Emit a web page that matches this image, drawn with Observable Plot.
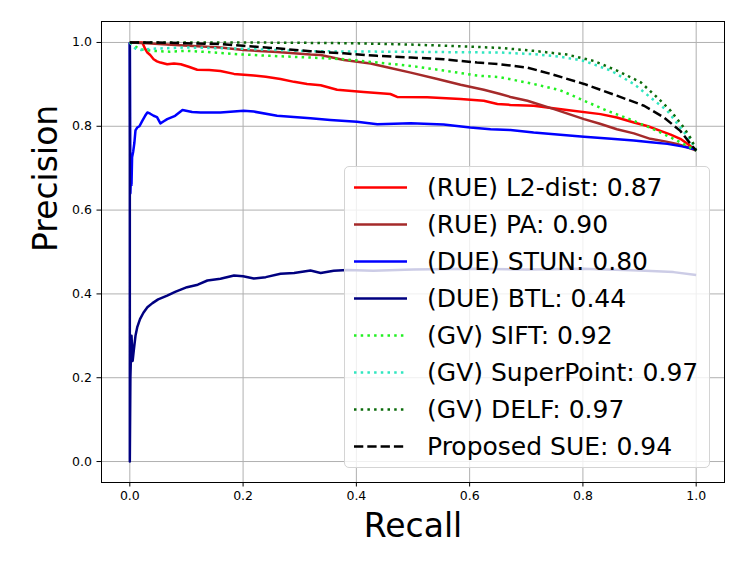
<!DOCTYPE html>
<html>
<head>
<meta charset="utf-8">
<script src="https://cdn.jsdelivr.net/npm/d3@7"></script>
<script src="https://cdn.jsdelivr.net/npm/@observablehq/plot@0.6"></script>
<style>
  html, body { margin: 0; padding: 0; background: white; }
  #wrap { position: relative; width: 745px; height: 578px; font-family: "DejaVu Sans", sans-serif; }
  #legend { position: absolute; left: 344px; top: 166px; width: 366px; height: 302px; box-sizing: border-box;
            border: 1px solid #d4d4d4; border-radius: 5px; background: rgba(255,255,255,0.8); }
  .row { position: absolute; left: 0; height: 37px; width: 100%; }
  .row svg { position: absolute; left: 9px; top: 0; }
  .row span { position: absolute; left: 82px; top: 0; line-height: 37px; font-size: 25px; color: black; white-space: nowrap; }
</style>
</head>
<body>
<div id="wrap"></div>
<script>
// ---- data ----
const seriesNames = ["(RUE) L2-dist: 0.87", "(RUE) PA: 0.90", "(DUE) STUN: 0.80", "(DUE) BTL: 0.44",
  "(GV) SIFT: 0.92", "(GV) SuperPoint: 0.97", "(GV) DELF: 0.97", "Proposed SUE: 0.94"];

const l2Recall = [0, 0.022, 0.027, 0.031, 0.036, 0.042, 0.048, 0.054, 0.066, 0.078, 0.090, 0.104, 0.119, 0.140, 0.160, 0.184, 0.219, 0.240, 0.266, 0.290, 0.313, 0.337, 0.366, 0.413, 0.460, 0.472, 0.525, 0.584, 0.625, 0.649, 0.672, 0.713, 0.772, 0.831, 0.860, 0.890, 0.915, 0.937, 0.955, 0.972, 0.988, 1.0];
const l2Precision = [1.0, 1.0, 0.985, 0.976, 0.970, 0.960, 0.955, 0.952, 0.948, 0.950, 0.948, 0.942, 0.935, 0.934, 0.932, 0.925, 0.921, 0.918, 0.913, 0.906, 0.901, 0.898, 0.887, 0.882, 0.877, 0.870, 0.869, 0.865, 0.861, 0.853, 0.851, 0.849, 0.839, 0.829, 0.821, 0.809, 0.800, 0.789, 0.780, 0.770, 0.755, 0.742];

const paRecall = [0, 0.03, 0.08, 0.16, 0.201, 0.26, 0.319, 0.337, 0.378, 0.425, 0.460, 0.496, 0.543, 0.584, 0.625, 0.654, 0.672, 0.702, 0.749, 0.802, 0.830, 0.860, 0.890, 0.919, 0.945, 0.966, 0.985, 1.0];
const paPrecision = [1.0, 0.998, 0.994, 0.988, 0.982, 0.977, 0.971, 0.970, 0.958, 0.950, 0.939, 0.928, 0.913, 0.899, 0.887, 0.877, 0.870, 0.861, 0.841, 0.817, 0.806, 0.793, 0.783, 0.770, 0.764, 0.758, 0.750, 0.742];

const stunRecall = [0, 0.001, 0.002, 0.003, 0.004, 0.006, 0.008, 0.010, 0.013, 0.017, 0.022, 0.027, 0.031, 0.036, 0.042, 0.048, 0.054, 0.060, 0.066, 0.080, 0.093, 0.110, 0.125, 0.160, 0.201, 0.219, 0.260, 0.319, 0.354, 0.401, 0.437, 0.496, 0.554, 0.601, 0.637, 0.672, 0.713, 0.760, 0.802, 0.850, 0.890, 0.920, 0.949, 0.975, 0.996, 1.0];
const stunPrecision = [1.0, 0.640, 0.680, 0.660, 0.726, 0.740, 0.760, 0.790, 0.797, 0.800, 0.813, 0.825, 0.833, 0.830, 0.825, 0.822, 0.807, 0.812, 0.817, 0.825, 0.839, 0.834, 0.833, 0.833, 0.837, 0.835, 0.825, 0.819, 0.815, 0.811, 0.805, 0.807, 0.804, 0.797, 0.793, 0.791, 0.785, 0.780, 0.775, 0.770, 0.766, 0.762, 0.758, 0.752, 0.746, 0.742];

const btlRecall = [0, 0, 0.001, 0.003, 0.005, 0.007, 0.010, 0.013, 0.018, 0.024, 0.031, 0.040, 0.050, 0.066, 0.080, 0.101, 0.120, 0.137, 0.160, 0.184, 0.200, 0.219, 0.240, 0.266, 0.290, 0.319, 0.337, 0.360, 0.384, 0.43, 0.5, 0.6, 0.7, 0.8, 0.9, 0.96, 1.0];
const btlPrecision = [1.0, 0.0, 0.20, 0.30, 0.24, 0.265, 0.30, 0.32, 0.34, 0.355, 0.368, 0.378, 0.387, 0.396, 0.405, 0.416, 0.422, 0.432, 0.436, 0.444, 0.442, 0.437, 0.440, 0.448, 0.450, 0.456, 0.450, 0.455, 0.457, 0.455, 0.458, 0.460, 0.458, 0.460, 0.456, 0.452, 0.445];

const siftRecall = [0, 0.01, 0.02, 0.04, 0.07, 0.101, 0.150, 0.190, 0.248, 0.319, 0.378, 0.437, 0.496, 0.554, 0.613, 0.654, 0.713, 0.760, 0.802, 0.843, 0.890, 0.931, 0.966, 1.0];
const siftPrecision = [1.0, 0.99, 0.983, 0.980, 0.978, 0.980, 0.976, 0.972, 0.968, 0.964, 0.960, 0.952, 0.944, 0.933, 0.921, 0.917, 0.901, 0.886, 0.861, 0.837, 0.813, 0.789, 0.766, 0.742];

const spRecall = [0, 0.01, 0.02, 0.04, 0.1, 0.2, 0.319, 0.45, 0.55, 0.654, 0.713, 0.760, 0.802, 0.849, 0.890, 0.919, 0.949, 0.972, 0.988, 1.0];
const spPrecision = [1.0, 0.985, 0.982, 0.985, 0.988, 0.985, 0.979, 0.978, 0.977, 0.976, 0.972, 0.966, 0.956, 0.933, 0.901, 0.869, 0.837, 0.797, 0.770, 0.742];

const delfRecall = [0, 0.1, 0.2, 0.319, 0.400, 0.496, 0.580, 0.654, 0.713, 0.772, 0.819, 0.860, 0.902, 0.931, 0.955, 0.978, 0.992, 1.0];
const delfPrecision = [1.0, 1.0, 1.0, 0.999, 0.998, 0.995, 0.991, 0.987, 0.980, 0.971, 0.956, 0.933, 0.905, 0.869, 0.837, 0.797, 0.768, 0.742];

const sueRecall = [0, 0.048, 0.1, 0.160, 0.200, 0.260, 0.319, 0.378, 0.437, 0.496, 0.554, 0.613, 0.654, 0.702, 0.743, 0.802, 0.860, 0.908, 0.943, 0.972, 0.990, 1.0];
const suePrecision = [1.0, 1.0, 0.998, 0.996, 0.992, 0.986, 0.979, 0.974, 0.968, 0.964, 0.960, 0.952, 0.948, 0.940, 0.925, 0.901, 0.873, 0.849, 0.821, 0.789, 0.758, 0.742];

const xTicks = [0, 0.2, 0.4, 0.6, 0.8, 1.0];
const xTickLabels = ["0.0", "0.2", "0.4", "0.6", "0.8", "1.0"];
const yTicks = [0, 0.2, 0.4, 0.6, 0.8, 1.0];
const yTickLabels = ["0.0", "0.2", "0.4", "0.6", "0.8", "1.0"];
const xLabel = ["Recall"];
const yLabel = ["Precision"];

// ---- styles (kept apart from the data) ----
const DOT = "2.5,4.2", DASH = "9.3,4";
const styles = [
  {color: "#ff0000", dash: null},
  {color: "#a52a2a", dash: null},
  {color: "#0000ff", dash: null},
  {color: "#000080", dash: null},
  {color: "#22f022", dash: DOT},
  {color: "#30e6c0", dash: DOT},
  {color: "#0b6b0b", dash: DOT},
  {color: "#000000", dash: DASH}
];

const seriesData = [
  [l2Recall, l2Precision], [paRecall, paPrecision], [stunRecall, stunPrecision], [btlRecall, btlPrecision],
  [siftRecall, siftPrecision], [spRecall, spPrecision], [delfRecall, delfPrecision], [sueRecall, suePrecision]
];

const tables = seriesData.map(([r, p], k) => r.map((v, i) => ({series: seriesNames[k], recall: v, precision: p[i]})));

const lineMarks = tables.map((t, k) => Plot.line(t, {
  x: "recall", y: "precision",
  stroke: styles[k].color, strokeWidth: 2.5,
  strokeDasharray: styles[k].dash || undefined,
  strokeLinecap: "butt", strokeLinejoin: "round"
}));

const chart = Plot.plot({
  width: 745, height: 578,
  marginLeft: 101, marginRight: 21, marginTop: 21, marginBottom: 96,
  x: {domain: [-0.05, 1.05]},
  y: {domain: [-0.05, 1.05]},
  style: {fontFamily: "DejaVu Sans", fontSize: "12.5px", color: "black", background: "white", overflow: "visible"},
  marks: [
    Plot.gridX(xTicks, {stroke: "#b0b0b0", strokeOpacity: 1, strokeWidth: 1}),
    Plot.gridY(yTicks, {stroke: "#b0b0b0", strokeOpacity: 1, strokeWidth: 1}),
    ...lineMarks,
    Plot.frame({stroke: "black", strokeWidth: 1}),
    Plot.axisX(xTicks, {tickFormat: d => xTickLabels[xTicks.indexOf(d)], tickSize: 4.5, tickPadding: 4, label: null, fontSize: 12.5}),
    Plot.axisY(yTicks, {tickFormat: d => yTickLabels[yTicks.indexOf(d)], tickSize: 4.5, tickPadding: 5, label: null, fontSize: 12.5}),
    Plot.text(xLabel, {text: d => d, frameAnchor: "bottom", dy: 44, fontSize: 33, lineAnchor: "middle"}),
    Plot.text(yLabel, {text: d => d, frameAnchor: "left", dx: -55, rotate: -90, fontSize: 33, lineAnchor: "middle"})
  ]
});

const wrap = document.getElementById("wrap");
wrap.appendChild(chart);

// legend
const legend = document.createElement("div");
legend.id = "legend";
seriesNames.forEach((name, k) => {
  const row = document.createElement("div");
  row.className = "row";
  row.style.top = (1.5 + 37 * k) + "px";
  const ns = "http://www.w3.org/2000/svg";
  const svg = document.createElementNS(ns, "svg");
  svg.setAttribute("width", 53); svg.setAttribute("height", 37);
  const ln = document.createElementNS(ns, "line");
  ln.setAttribute("x1", 0); ln.setAttribute("x2", 53);
  ln.setAttribute("y1", 18.5); ln.setAttribute("y2", 18.5);
  ln.setAttribute("stroke", styles[k].color);
  ln.setAttribute("stroke-width", 2.5);
  if (styles[k].dash) ln.setAttribute("stroke-dasharray", styles[k].dash);
  svg.appendChild(ln);
  const span = document.createElement("span");
  span.textContent = name;
  row.appendChild(svg); row.appendChild(span);
  legend.appendChild(row);
});
wrap.appendChild(legend);
</script>
</body>
</html>
